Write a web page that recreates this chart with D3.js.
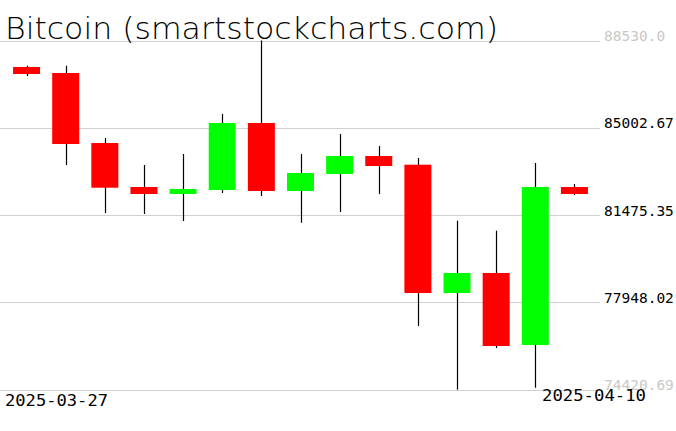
<!DOCTYPE html>
<html><head><meta charset="utf-8">
<script src="https://cdn.jsdelivr.net/npm/d3@7"></script>
<style>html,body{margin:0;padding:0;background:#fff;overflow:hidden}</style>
</head><body>
<svg id="c" width="676" height="431"></svg>
<script>
const dates = ["2025-03-27","2025-03-28","2025-03-29","2025-03-30","2025-03-31","2025-04-01","2025-04-02","2025-04-03","2025-04-04","2025-04-05","2025-04-06","2025-04-07","2025-04-08","2025-04-09","2025-04-10"];
const opens  = [87459, 87217, 84388, 82611, 82328, 82489, 85197, 82449, 83136, 83863, 83512, 78328, 79136, 76227, 82611];
const highs  = [87512, 87512, 84591, 83500, 83944, 85560, 88530, 83944, 84752, 84267, 83782, 81249, 80845, 83580, 82732];
const lows   = [87096, 83500, 81560, 81520, 81237, 82368, 82247, 81168, 81601, 82328, 76994, 74420.69, 76105, 74501, 82288];
const closes = [87176, 84348, 82582, 82328, 82530, 85197, 82449, 83176, 83863, 83459, 78328, 79136, 76186, 82611, 82328];
const yTickLabels = ["74420.69","77948.02","81475.35","85002.67","88530.0"];
const xTickLabels = ["2025-03-27","2025-04-10"];
const title = "Bitcoin (smartstockcharts.com)";

const svg = d3.select("#c");
const yMin = d3.min(lows), yMax = d3.max(highs);
const y = d3.scaleLinear().domain([yMin, yMax]).range([389.7, 40.5]);
const x = d3.scaleBand().domain(dates).range([7, 594]).paddingInner(0.31).paddingOuter(0.155);

const tickVals = d3.range(5).map(i => yMin + i * (yMax - yMin) / 4);

// grid
svg.append("g").selectAll("line").data(tickVals).join("line")
  .attr("x1", 0).attr("x2", 600)
  .attr("y1", d => Math.round(y(d)) + 0.5).attr("y2", d => Math.round(y(d)) + 0.5)
  .attr("stroke", "#d0d0d0").attr("stroke-width", 1);

// y labels
svg.append("g").selectAll("text").data(tickVals).join("text")
  .attr("x", 604).attr("y", d => y(d) + 0.5)
  .attr("font-family", "DejaVu Sans Mono").attr("font-size", 14.5)
  .attr("fill", (d, i) => (i === 0 || i === 4) ? "#c8c8c8" : "#000")
  .text((d, i) => yTickLabels[i]);

// title
svg.append("text").attr("x", 5).attr("y", 38.5)
  .attr("font-family", "DejaVu Sans").attr("font-weight", 200)
  .attr("font-size", 30).attr("textLength", 493).attr("lengthAdjust", "spacingAndGlyphs")
  .attr("fill", "#000").text(title);

// candles
const idx = d3.range(dates.length);
const g = svg.append("g");
g.selectAll("line.w").data(idx).join("line").attr("class", "w")
  .attr("x1", i => Math.round(x(dates[i]) + x.bandwidth() / 2) + 0.5)
  .attr("x2", i => Math.round(x(dates[i]) + x.bandwidth() / 2) + 0.5)
  .attr("y1", i => y(highs[i])).attr("y2", i => y(lows[i]))
  .attr("stroke", "#000").attr("stroke-width", 1.2);
g.selectAll("rect").data(idx).join("rect")
  .attr("x", i => x(dates[i])).attr("width", x.bandwidth())
  .attr("y", i => y(Math.max(opens[i], closes[i])))
  .attr("height", i => Math.max(1, y(Math.min(opens[i], closes[i])) - y(Math.max(opens[i], closes[i]))))
  .attr("fill", i => closes[i] >= opens[i] ? "#00ff00" : "#ff0000");

// x labels
svg.append("text").attr("x", 5).attr("y", 406)
  .attr("font-family", "DejaVu Sans Mono").attr("font-size", 15)
  .attr("textLength", 103).attr("lengthAdjust", "spacingAndGlyphs")
  .text(xTickLabels[0]);
svg.append("text").attr("x", 542).attr("y", 401)
  .attr("font-family", "DejaVu Sans Mono").attr("font-size", 15)
  .attr("textLength", 104).attr("lengthAdjust", "spacingAndGlyphs")
  .text(xTickLabels[1]);
</script>
</body></html>
